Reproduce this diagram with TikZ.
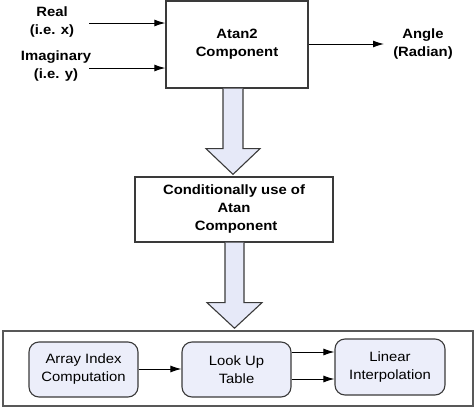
\documentclass[tikz,border=0pt]{standalone}
\usepackage{fontspec}
\setmainfont{Liberation Sans}[FakeStretch=1.1]
\usetikzlibrary{arrows.meta,calc}
\definecolor{edge}{HTML}{3A3A3A}
\definecolor{lav}{HTML}{ECEEFA}
\definecolor{arrfill}{HTML}{E6E9F8}
\tikzset{
  box/.style={draw=edge,line width=1.3pt,fill=white,align=center,inner sep=0pt,font=\fontsize{13.5}{18}\selectfont\bfseries},
  rbox/.style={draw=edge,line width=1.1pt,fill=lav,rounded corners=10pt,align=center,inner sep=0pt,font=\fontsize{13.5}{18}\selectfont},
  lbl/.style={align=center,inner sep=0pt,font=\fontsize{13.5}{18}\selectfont\bfseries},
  conn/.style={draw=black,line width=1pt,-{Latex[length=11pt,width=7pt]}},
  blockarrow/.style={draw=edge,line width=1.1pt,fill=arrfill,line join=miter},
}
\begin{document}
\begin{tikzpicture}[x=1pt,y=-1pt]
\useasboundingbox (0,0) rectangle (474,407);
% cut-off piece at top
\fill[edge] (222,0) rectangle (243,3);
% main boxes
\node[box,minimum width=142pt,minimum height=87pt] (atan) at (237,44.5) {Atan2\\Component};
\node[box,minimum width=198pt,minimum height=65pt] (cond) at (234,209.5) {Conditionally use of\\Atan\\\ Component};
\node[draw=edge!85,line width=1.6pt,minimum width=470pt,minimum height=75pt,inner sep=0pt] (outer) at (238,368.5) {};
% inner rounded boxes
\node[rbox,minimum width=109pt,minimum height=55pt] (arr) at (83.5,369.5) {Array Index\\Computation};
\node[rbox,minimum width=109pt,minimum height=55pt] (lut) at (236.5,369.5) {Look Up\\Table};
\node[rbox,minimum width=110pt,minimum height=56pt] (lin) at (390,367) {Linear\\Interpolation};
% labels
\node[lbl] (real) at (52,22.5) {Real\\(i.e. x)};
\node[lbl] (imag) at (56,66.5) {Imaginary\\(i.e. y)};
\node[lbl] (ang) at (423,44) {Angle\\(Radian)};
\coordinate (realin) at (89,23);
\coordinate (imagin) at (89,68);
\coordinate (angout) at (384,44);
% connectors
\draw[conn] (realin) -- (realin -| atan.west);
\draw[conn] (imagin) -- (imagin -| atan.west);
\draw[conn] (atan.east |- angout) -- (angout);
\draw[conn] (arr.east |- 0,369) -- (lut.west |- 0,369);
\draw[conn] (lut.east |- 0,352) -- (lin.west |- 0,352);
\draw[conn] (lut.east |- 0,379) -- (lin.west |- 0,379);
% block arrows
\draw[blockarrow] ($(atan.south)+(-14,0)$) -- ($(atan.south)+(-14,60)$) -- ($(atan.south)+(-31,60)$)
  -- ($(cond.north)+(-1,-2)$) -- ($(atan.south)+(23,60)$) -- ($(atan.south)+(6,60)$) -- ($(atan.south)+(6,0)$);
\draw[blockarrow] ($(cond.south)+(-9,0)$) -- ($(cond.south)+(-9,60)$) -- ($(cond.south)+(-27,60)$)
  -- ($(outer.north)+(-3.5,-2)$) -- ($(cond.south)+(28,60)$) -- ($(cond.south)+(10,60)$) -- ($(cond.south)+(10,0)$);
\end{tikzpicture}
\end{document}
